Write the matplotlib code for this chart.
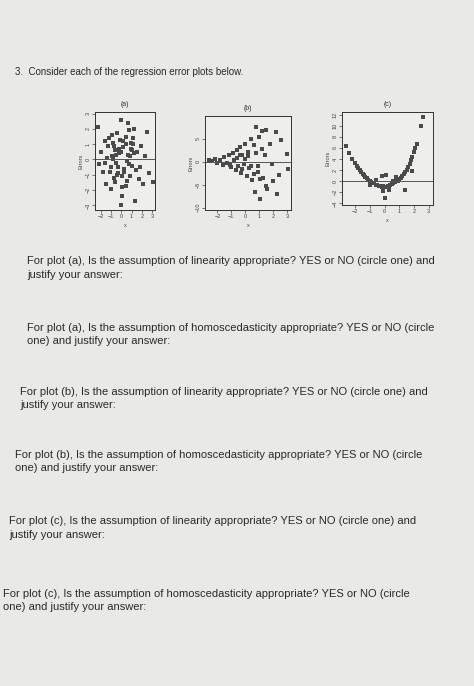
import matplotlib
matplotlib.use("Agg")
import matplotlib.pyplot as plt

plt.rcParams['font.family'] = ['Liberation Sans', 'DejaVu Sans']

# plot (a): errors vs x, constant spread
xa = [-2.3, -2.2, -2.0, -1.8, -1.6, -1.5, -1.3, -1.2, -1.0, -0.9, -0.8, -0.7, -0.6, -0.5, -0.4,
      -0.3, -0.2, -0.1, 0.0, 0.1, 0.2, 0.3, 0.4, 0.5, 0.6, 0.7, 0.8, 0.9, 1.0, 1.1, 1.2, 1.4,
      1.5, 1.7, 1.9, 2.1, 2.3, 2.5, 2.7, 3.1, -1.4, -1.1, -0.6, -0.2, 0.1, 0.4, 0.7, 1.0, 1.3,
      -0.9, -0.4, 0.2, 0.5, 0.9, -1.6, -0.8, 0.0, 0.6, 1.2, 1.8, -0.5, 0.3, -1.0, 0.8, 0.0,
      -0.3, 0.1, -0.7, 0.4, 1.1]
ya = [2.1, -0.3, 0.5, -0.8, 1.2, -1.6, 0.9, 1.4, -0.5, 0.2, 1.1, -1.2, 0.6, -0.2, 1.7,
      -0.9, 0.4, 1.3, 2.6, -1.8, 0.8, -0.6, 1.5, -0.1, 0.3, 1.9, -1.1, 0.7, -0.4, 1.0, 2.0, -0.7,
      0.5, -1.3, 0.9, -1.6, 0.2, 1.8, -0.9, -1.5, 0.1, -0.8, -1.5, 0.7, -2.4, 1.0, -0.3, 0.6, -2.7,
      1.6, -1.0, 1.2, -1.4, 1.1, -0.2, 0.0, -3.0, 2.4, 0.4, -0.5, 0.3, -0.8, -1.9, 0.2, 0.5,
      -0.5, -1.1, 0.9, -1.7, 1.4]

# plot (b): spread increases with x
xb = [-2.6, -2.4, -2.2, -2.0, -1.8, -1.6, -1.5, -1.3, -1.2, -1.0, -0.9, -0.8, -0.7, -0.6, -0.5,
      -0.4, -0.3, -0.2, -0.1, 0.0, 0.1, 0.2, 0.3, 0.4, 0.5, 0.6, 0.7, 0.8, 0.9, 1.0, 1.1, 1.2,
      1.3, 1.5, 1.6, 1.8, 2.0, 2.2, 2.4, 2.6, 3.0, 3.1, -1.1, -0.6, -0.2, 0.2, 0.6, 0.9, 1.2,
      1.5, 0.0, -0.4, 0.4, 0.8, 1.1, 1.4, 1.9, 2.3]
yb = [0.5, 0.2, 0.6, -0.3, 0.4, -0.6, 1.0, -0.2, 1.6, -1.2, 2.0, 0.3, -1.8, 2.5, -0.9,
      3.2, -2.4, 1.5, -0.5, 4.0, -3.1, 2.2, -1.4, 5.0, -4.0, 3.6, -6.5, 7.5, -2.2, 5.5, -8.0,
      6.8, -3.5, 7.0, -6.0, 4.0, -4.2, 6.5, -2.8, 4.8, 1.8, -1.5, -0.7, 0.9, -1.6, 1.2, -2.6,
      -1.0, 2.8, -5.2, 0.6, 1.4, -0.8, 2.0, -3.8, 1.5, -0.4, -7.0]

# plot (c): quadratic pattern
xc = [-2.6, -2.4, -2.2, -2.0, -1.9, -1.8, -1.7, -1.6, -1.5, -1.4, -1.3, -1.2, -1.1, -1.0,
      -0.9, -0.8, -0.7, -0.6, -0.5, -0.4, -0.3, -0.2, -0.1, 0.0, 0.1, 0.2, 0.3, 0.4, 0.5, 0.6,
      0.7, 0.8, 0.9, 1.0, 1.1, 1.2, 1.3, 1.4, 1.5, 1.6, 1.7, 1.8, 1.9, 2.0, 2.1, 2.2, 2.5, 2.6,
      -0.6, -0.2, 0.1, 0.3, 0.6, -1.0, 0.0, -0.1, 0.8, 1.4, 1.9]
yc = [6.3, 5.1, 4.0, 3.2, 2.8, 2.4, 2.0, 1.6, 1.3, 1.1, 0.8, 0.5, 0.3, 0.1,
      -0.1, -0.3, -0.4, -0.6, -0.7, -0.8, -0.9, -1.0, -0.9, -1.0, -1.1, -0.9, -0.8, -0.6, -0.5,
      -0.4, -0.2, 0.0, 0.1, 0.4, 0.6, 0.9, 1.3, 1.6, 2.0, 2.6, 3.1, 3.8, 4.4, 5.2, 6.0, 6.8,
      10.0, 11.6, 0.2, 1.0, 1.2, -1.6, 0.1, -0.6, -3.0, -1.8, 0.7, -1.6, 1.8]

panels = [
    ("(a)", xa, ya, [-3, -2, -1, 0, 1, 2, 3], (-3.3, 3.1), (-2.6, 3.3)),
    ("(b)", xb, yb, [-10, -5, 0, 5], (-10.5, 10), (-2.9, 3.3)),
    ("(c)", xc, yc, [-4, -2, 0, 2, 4, 6, 8, 10, 12], (-4.3, 12.5), (-2.9, 3.3)),
]
rects = [(95, 112, 60, 98), (205, 116, 86, 94), (342, 112, 91, 93)]

W, H = 474, 686
fig = plt.figure(figsize=(W / 100, H / 100), dpi=100)
fig.patch.set_facecolor('#e9e9e7')

for (title, x, y, yt, ylim, xlim), (l, t, w, h) in zip(panels, rects):
    ax = fig.add_axes([l / W, 1 - (t + h) / H, w / W, h / H])
    ax.set_facecolor('#eeeeec')
    ax.scatter(x, y, s=5, color='#4a4a4a', marker='s', linewidths=0)
    ax.axhline(0, color='#555555', lw=0.7)
    ax.set_ylim(*ylim)
    ax.set_xlim(*xlim)
    ax.set_yticks(yt)
    ax.set_xticks([-2, -1, 0, 1, 2, 3])
    ax.tick_params(labelsize=4, colors='#444444', length=2, width=0.5, pad=1)
    for lab in ax.get_yticklabels():
        lab.set_rotation(90)
        lab.set_va('center')
    for s in ax.spines.values():
        s.set_linewidth(0.7)
        s.set_color('#333333')
    ax.set_title(title, fontsize=5, color='#333333', pad=4)
    ax.set_ylabel('Errors', fontsize=4, color='#444444', labelpad=2)
    ax.set_xlabel('x', fontsize=4, color='#444444', labelpad=3)

def txt(x, y, s, fs=8):
    fig.text(x / W, 1 - y / H, s, fontsize=fs, color='#2a2a2a', va='center', ha='left')

txt(15, 72, "3.  Consider each of the regression error plots below.", 7)
lines = [
    (27, 261, "For plot (a), Is the assumption of linearity appropriate? YES or NO (circle one) and"),
    (27, 275, "justify your answer:"),
    (27, 328, "For plot (a), Is the assumption of homoscedasticity appropriate? YES or NO (circle"),
    (27, 341, "one) and justify your answer:"),
    (20, 392, "For plot (b), Is the assumption of linearity appropriate? YES or NO (circle one) and"),
    (20, 405, "justify your answer:"),
    (15, 455, "For plot (b), Is the assumption of homoscedasticity appropriate? YES or NO (circle"),
    (15, 468, "one) and justify your answer:"),
    (9, 521, "For plot (c), Is the assumption of linearity appropriate? YES or NO (circle one) and"),
    (9, 535, "justify your answer:"),
    (3, 594, "For plot (c), Is the assumption of homoscedasticity appropriate? YES or NO (circle"),
    (3, 607, "one) and justify your answer:"),
]
for x, y, s in lines:
    txt(x, y, s)

fig.savefig("out.png", dpi=100, facecolor=fig.get_facecolor())
